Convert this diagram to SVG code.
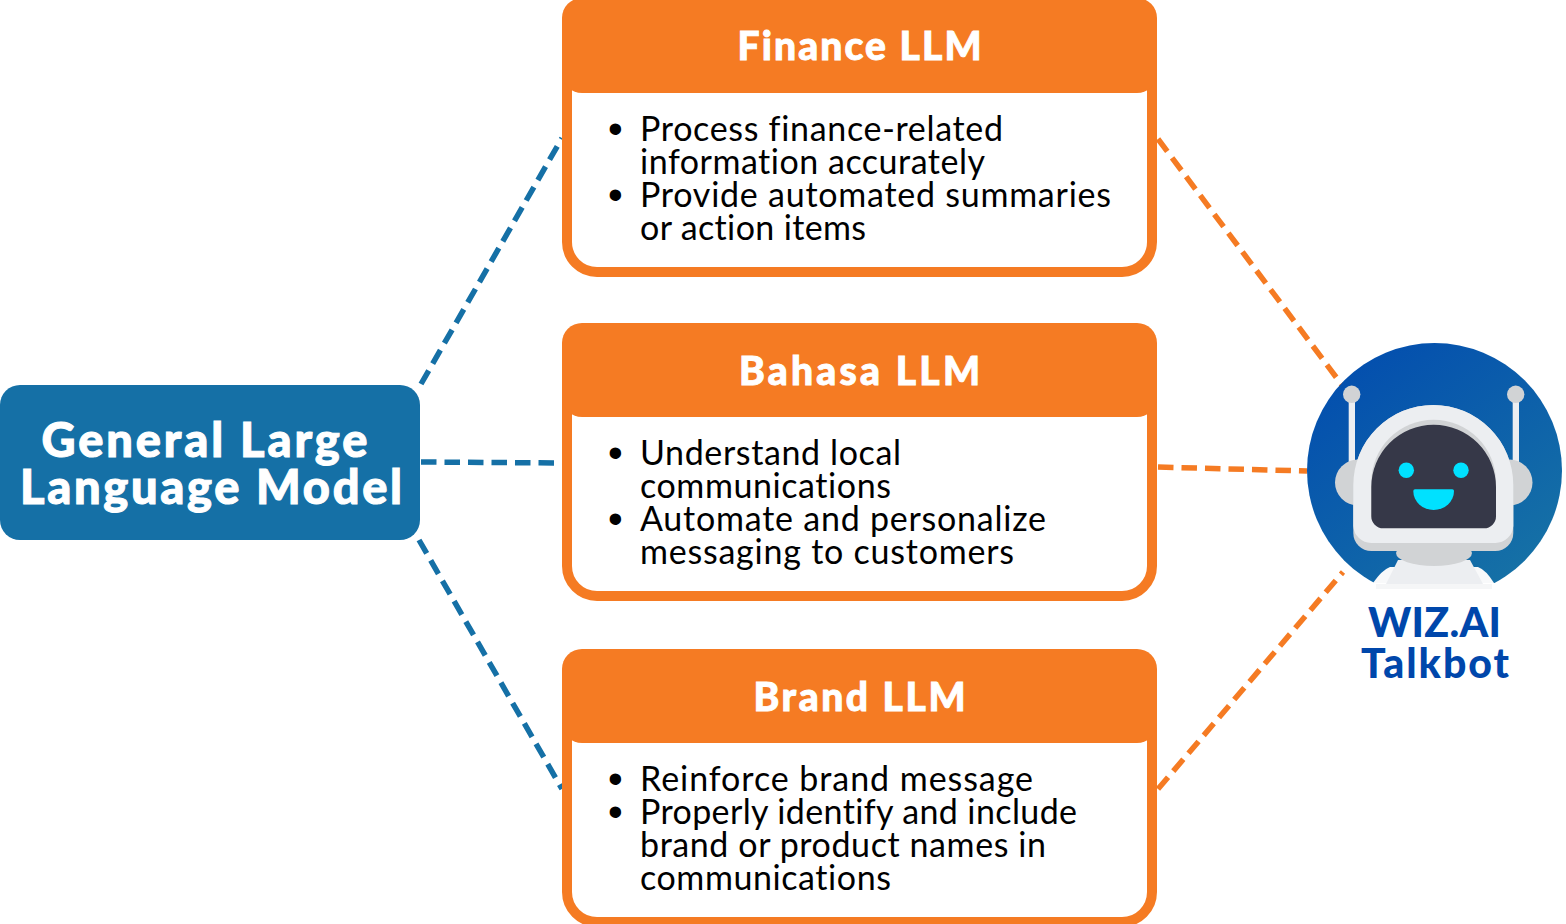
<svg xmlns="http://www.w3.org/2000/svg" width="1566" height="924" viewBox="0 0 1566 924">
<style>
text{font-family:"Lato","Noto Sans",sans-serif;font-variant-ligatures:none}
.h{font-size:39px;font-weight:900;fill:#fff;stroke:#fff;stroke-width:.9px}
.b{font-size:34px;fill:#000}
.d{font-size:42px;fill:#000;font-family:"Liberation Sans",sans-serif}
.g{font-size:47px;font-weight:900;fill:#fff;stroke:#fff;stroke-width:1px}
.w{font-size:41px;font-weight:900;fill:#0047ab}
.frame{fill:#fff;stroke:#f57b23;stroke-width:10}
.head{fill:#f57b23}
.bl{stroke:#1570a6}
.or{stroke:#f57b23}
#connectors line{stroke-width:5.500;stroke-dasharray:15.500 8;fill:none}
</style>
<defs>
<linearGradient id="gr" x1="0.2" y1="0.1" x2="0.8" y2="0.9"><stop offset="0" stop-color="#0450ae"/><stop offset="1" stop-color="#1570a6"/></linearGradient>
<clipPath id="cc"><rect x="1300" y="340" width="270" height="243"/></clipPath>
</defs>
<rect width="1566" height="924" fill="#fff"/>
<g id="connectors">
<line class="bl" x1="421" y1="384" x2="562" y2="138"/>
<line class="bl" x1="421" y1="462" x2="562" y2="463"/>
<line class="bl" x1="419" y1="540" x2="562" y2="789"/>
<line class="or" x1="1158" y1="139" x2="1342" y2="385"/>
<line class="or" x1="1158" y1="467" x2="1307" y2="471"/>
<line class="or" x1="1158" y1="789" x2="1343" y2="572"/>
</g>
<g id="general">
<rect x="0" y="385" width="420" height="155" rx="20" fill="#1570a6"/>
<text class="g" x="204.500" y="457" text-anchor="middle" textLength="326" lengthAdjust="spacing">General Large</text>
<text class="g" x="211" y="504" text-anchor="middle" textLength="382" lengthAdjust="spacing">Language Model</text>
</g>
<g id="finance">
<rect class="frame" x="567" y="5" width="585" height="267" rx="30"/>
<rect class="head" x="562" y="-2" width="595" height="95" rx="20"/>
<text class="h" x="859.500" y="60" text-anchor="middle" textLength="244" lengthAdjust="spacing">Finance LLM</text>
<text class="d" x="608" y="143">•</text>
<text class="b" x="640" y="141" textLength="363" lengthAdjust="spacing">Process finance-related</text>
<text class="b" x="640" y="174" textLength="345" lengthAdjust="spacing">information accurately</text>
<text class="d" x="608" y="209">•</text>
<text class="b" x="640" y="207" textLength="471" lengthAdjust="spacing">Provide automated summaries</text>
<text class="b" x="640" y="240" textLength="226" lengthAdjust="spacing">or action items</text>
</g>
<g id="bahasa">
<rect class="frame" x="567" y="328" width="585" height="268" rx="30"/>
<rect class="head" x="562" y="323" width="595" height="94" rx="20"/>
<text class="h" x="859.500" y="385" text-anchor="middle" textLength="241" lengthAdjust="spacing">Bahasa LLM</text>
<text class="d" x="608" y="467">•</text>
<text class="b" x="640" y="465" textLength="261" lengthAdjust="spacing">Understand local</text>
<text class="b" x="640" y="498" textLength="251" lengthAdjust="spacing">communications</text>
<text class="d" x="608" y="533">•</text>
<text class="b" x="640" y="531" textLength="406" lengthAdjust="spacing">Automate and personalize</text>
<text class="b" x="640" y="564" textLength="374" lengthAdjust="spacing">messaging to customers</text>
</g>
<g id="brand">
<rect class="frame" x="567" y="654" width="585" height="268" rx="30"/>
<rect class="head" x="562" y="649" width="595" height="94" rx="20"/>
<text class="h" x="859.500" y="711" text-anchor="middle" textLength="212" lengthAdjust="spacing">Brand LLM</text>
<text class="d" x="608" y="793">•</text>
<text class="b" x="640" y="791" textLength="393" lengthAdjust="spacing">Reinforce brand message</text>
<text class="d" x="608" y="826">•</text>
<text class="b" x="640" y="824" textLength="437" lengthAdjust="spacing">Properly identify and include</text>
<text class="b" x="640" y="857" textLength="406" lengthAdjust="spacing">brand or product names in</text>
<text class="b" x="640" y="890" textLength="251" lengthAdjust="spacing">communications</text>
</g>
<g id="talkbot">
<circle cx="1434.500" cy="470.500" r="127.500" fill="url(#gr)" clip-path="url(#cc)"/>
<rect x="1348.700" y="394" width="6.300" height="70" fill="#eceef1"/>
<rect x="1512.700" y="394" width="6.300" height="70" fill="#eceef1"/>
<circle cx="1351.700" cy="394.300" r="8.700" fill="#d1d3d5"/>
<circle cx="1515.700" cy="394.300" r="8.700" fill="#d1d3d5"/>
<circle cx="1358" cy="482.500" r="23" fill="#d1d3d5"/>
<circle cx="1509.500" cy="482.500" r="23" fill="#d1d3d5"/>
<path d="M1373 583Q1382 570 1390 567H1478Q1486 570 1494 583Z" fill="#f8f9fa"/>
<path d="M1398 560H1470L1483 584H1386Z" fill="#eceef1"/>
<rect x="1376" y="584" width="116" height="5" fill="#f5f6f7"/>
<ellipse cx="1434" cy="553" rx="38" ry="13" fill="#d1d3d5"/>
<path d="M1353.300 485A80 80 0 0 1 1513.300 485V533A18 18 0 0 1 1495.300 551H1371.300A18 18 0 0 1 1353.300 533Z" fill="#d1d3d5"/>
<path d="M1353.300 485A80 80 0 0 1 1513.300 485V526A18 18 0 0 1 1495.300 543H1371.300A18 18 0 0 1 1353.300 526Z" fill="#eceef1"/>
<path d="M1371.300 482A62.300 62.300 0 0 1 1496 482V516A12 12 0 0 1 1484 528H1383.300A12 12 0 0 1 1371.300 516Z" fill="#d1d3d5"/>
<path d="M1371.300 487A62.300 62.300 0 0 1 1496 487V516A12 12 0 0 1 1484 528.300H1383.300A12 12 0 0 1 1371.300 516Z" fill="#363848"/>
<circle cx="1406.300" cy="470.300" r="7.700" fill="#00e1ff"/>
<circle cx="1461" cy="470.300" r="7.700" fill="#00e1ff"/>
<path d="M1413.300 491Q1413.300 489.300 1415 489.300H1452.300Q1454 489.300 1454 491A20.300 19 0 0 1 1413.300 491Z" fill="#00e1ff"/>
<text class="w" x="1434.500" y="637" text-anchor="middle" textLength="133" lengthAdjust="spacing">WIZ.AI</text>
<text class="w" x="1435" y="678" text-anchor="middle" textLength="148" lengthAdjust="spacing">Talkbot</text>
</g>
</svg>
